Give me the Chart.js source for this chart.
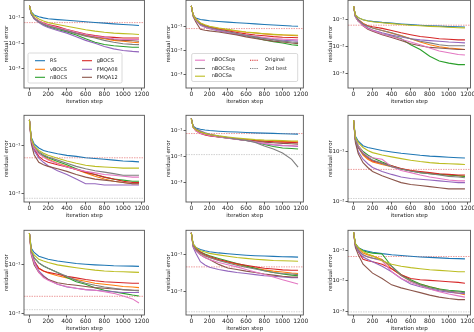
<!DOCTYPE html>
<html><head><meta charset="utf-8">
<script src="https://cdn.jsdelivr.net/npm/chart.js@4/dist/chart.umd.min.js"></script>
<style>
html,body{margin:0;padding:0;background:#fff;overflow:hidden;width:474px;height:332px;}
canvas{position:absolute;}
</style></head><body>
<script>
// ---------- data ----------
const ITER = [0, 20, 50, 100, 150, 200, 300, 400, 500, 600, 700, 800, 900, 1000, 1100, 1170];
const X_TICKS = [0, 200, 400, 600, 800, 1000, 1200];
const METHODS = ['RS','vBOCS','nBOCS','gBOCS','FMQA08','FMQA12','nBOCSqa','nBOCSsq','nBOCSa'];

// each method: 9 panels (row-major), values at ITER
const RS = [
 [0.30,0.17,0.13,0.11,0.10,0.092,0.085,0.08,0.075,0.07,0.066,0.062,0.058,0.055,0.052,0.05],
 [0.7,0.3,0.22,0.19,0.18,0.17,0.158,0.148,0.14,0.133,0.125,0.118,0.112,0.107,0.102,0.1],
 [0.32,0.15,0.12,0.1,0.092,0.087,0.08,0.075,0.07,0.066,0.063,0.06,0.058,0.056,0.055,0.054],
 [0.35,0.15,0.11,0.09,0.08,0.075,0.068,0.063,0.06,0.056,0.054,0.052,0.05,0.048,0.047,0.046],
 [0.3,0.15,0.13,0.115,0.108,0.103,0.097,0.093,0.09,0.087,0.084,0.082,0.08,0.078,0.076,0.075],
 [0.42,0.2,0.16,0.13,0.12,0.115,0.105,0.098,0.092,0.088,0.084,0.081,0.079,0.077,0.075,0.074],
 [0.45,0.22,0.18,0.15,0.14,0.13,0.12,0.113,0.107,0.103,0.1,0.098,0.096,0.095,0.094,0.093],
 [0.4,0.2,0.16,0.14,0.13,0.122,0.113,0.107,0.102,0.098,0.095,0.093,0.091,0.089,0.088,0.087],
 [0.38,0.16,0.12,0.1,0.092,0.085,0.077,0.071,0.067,0.063,0.06,0.058,0.056,0.054,0.053,0.052]
];
const vBOCS = [
 [0.30,0.15,0.10,0.075,0.06,0.05,0.04,0.032,0.025,0.02,0.017,0.015,0.013,0.012,0.011,0.0105],
 [0.7,0.3,0.2,0.13,0.11,0.095,0.08,0.07,0.062,0.056,0.052,0.048,0.045,0.043,0.041,0.04],
 [0.32,0.14,0.1,0.075,0.06,0.05,0.04,0.032,0.026,0.02,0.015,0.012,0.01,0.009,0.0085,0.008],
 [0.35,0.13,0.09,0.07,0.06,0.052,0.043,0.037,0.032,0.027,0.023,0.02,0.018,0.017,0.016,0.016],
 [0.3,0.14,0.11,0.085,0.075,0.068,0.06,0.054,0.05,0.046,0.043,0.041,0.04,0.039,0.038,0.038],
 [0.42,0.17,0.12,0.085,0.07,0.062,0.055,0.05,0.045,0.042,0.039,0.037,0.035,0.034,0.033,0.032],
 [0.45,0.17,0.12,0.085,0.075,0.068,0.06,0.054,0.05,0.046,0.042,0.04,0.038,0.036,0.035,0.034],
 [0.4,0.18,0.14,0.11,0.095,0.085,0.072,0.063,0.055,0.048,0.043,0.039,0.036,0.034,0.032,0.031],
 [0.38,0.15,0.11,0.08,0.07,0.065,0.05,0.025,0.015,0.01,0.008,0.0065,0.0055,0.0045,0.004,0.0036]
];
const nBOCS = [
 [0.30,0.14,0.095,0.07,0.055,0.045,0.035,0.028,0.021,0.015,0.011,0.009,0.008,0.0075,0.007,0.007],
 [0.7,0.28,0.19,0.12,0.1,0.085,0.068,0.058,0.048,0.04,0.033,0.027,0.023,0.02,0.017,0.016],
 [0.32,0.13,0.09,0.065,0.05,0.04,0.03,0.025,0.02,0.012,0.008,0.0045,0.003,0.0025,0.0022,0.0022],
 [0.35,0.13,0.09,0.07,0.062,0.056,0.047,0.04,0.033,0.028,0.025,0.022,0.02,0.019,0.018,0.018],
 [0.3,0.14,0.11,0.085,0.073,0.066,0.058,0.052,0.048,0.044,0.038,0.03,0.025,0.022,0.021,0.02],
 [0.42,0.18,0.13,0.1,0.085,0.075,0.062,0.052,0.045,0.041,0.038,0.036,0.035,0.034,0.033,0.032],
 [0.45,0.19,0.14,0.11,0.095,0.085,0.07,0.055,0.045,0.04,0.034,0.03,0.028,0.026,0.024,0.023],
 [0.4,0.19,0.15,0.12,0.105,0.095,0.08,0.068,0.058,0.05,0.043,0.037,0.033,0.03,0.028,0.027],
 [0.38,0.16,0.12,0.095,0.085,0.08,0.075,0.03,0.016,0.011,0.008,0.0065,0.0055,0.005,0.0047,0.0045]
];
const gBOCS = [
 [0.30,0.15,0.10,0.075,0.062,0.055,0.045,0.035,0.028,0.023,0.02,0.018,0.017,0.016,0.016,0.016],
 [0.7,0.3,0.2,0.13,0.105,0.09,0.075,0.064,0.055,0.048,0.043,0.04,0.037,0.035,0.034,0.033],
 [0.32,0.14,0.1,0.07,0.06,0.055,0.048,0.04,0.033,0.028,0.024,0.022,0.02,0.019,0.018,0.018],
 [0.35,0.13,0.085,0.06,0.05,0.045,0.04,0.036,0.032,0.028,0.025,0.022,0.02,0.018,0.017,0.017],
 [0.3,0.14,0.1,0.08,0.07,0.064,0.058,0.053,0.049,0.045,0.042,0.04,0.038,0.037,0.036,0.035],
 [0.42,0.17,0.12,0.09,0.075,0.065,0.058,0.052,0.046,0.042,0.04,0.038,0.036,0.035,0.034,0.034],
 [0.45,0.18,0.12,0.085,0.075,0.07,0.064,0.058,0.054,0.05,0.047,0.045,0.044,0.043,0.042,0.042],
 [0.4,0.19,0.15,0.12,0.1,0.09,0.075,0.065,0.057,0.052,0.047,0.043,0.041,0.039,0.038,0.038],
 [0.38,0.14,0.09,0.05,0.045,0.042,0.035,0.025,0.016,0.012,0.011,0.0105,0.01,0.0095,0.009,0.0085]
];
const FMQA08 = [
 [0.30,0.14,0.09,0.065,0.05,0.042,0.032,0.025,0.018,0.013,0.01,0.0075,0.006,0.0052,0.0048,0.0046],
 [0.7,0.28,0.18,0.11,0.09,0.078,0.064,0.054,0.046,0.04,0.035,0.031,0.028,0.026,0.025,0.024],
 [0.32,0.13,0.09,0.065,0.05,0.042,0.033,0.027,0.023,0.02,0.018,0.017,0.016,0.015,0.0145,0.014],
 [0.35,0.12,0.08,0.055,0.045,0.038,0.03,0.025,0.02,0.016,0.016,0.015,0.015,0.015,0.015,0.015],
 [0.3,0.15,0.12,0.1,0.085,0.075,0.063,0.055,0.048,0.043,0.037,0.032,0.029,0.027,0.026,0.025],
 [0.42,0.16,0.1,0.07,0.057,0.048,0.04,0.035,0.031,0.029,0.028,0.027,0.026,0.025,0.024,0.024],
 [0.45,0.18,0.12,0.075,0.06,0.05,0.04,0.035,0.033,0.031,0.03,0.029,0.028,0.027,0.027,0.027],
 [0.4,0.16,0.11,0.065,0.053,0.046,0.04,0.036,0.033,0.031,0.029,0.027,0.026,0.025,0.024,0.024],
 [0.38,0.13,0.09,0.06,0.05,0.042,0.03,0.02,0.012,0.008,0.0065,0.0055,0.0048,0.0043,0.004,0.0039]
];
const FMQA12 = [
 [0.30,0.15,0.10,0.072,0.058,0.05,0.04,0.032,0.026,0.021,0.018,0.016,0.014,0.013,0.0125,0.012],
 [0.7,0.25,0.15,0.075,0.068,0.064,0.058,0.05,0.043,0.036,0.031,0.027,0.024,0.022,0.02,0.019],
 [0.32,0.13,0.09,0.06,0.045,0.038,0.028,0.022,0.017,0.013,0.011,0.0095,0.009,0.0085,0.008,0.008],
 [0.35,0.11,0.065,0.045,0.04,0.037,0.033,0.029,0.025,0.022,0.02,0.019,0.018,0.017,0.016,0.016],
 [0.3,0.14,0.11,0.09,0.078,0.07,0.06,0.053,0.048,0.043,0.04,0.037,0.035,0.033,0.032,0.031],
 [0.42,0.15,0.09,0.06,0.048,0.04,0.033,0.028,0.024,0.022,0.021,0.02,0.019,0.018,0.018,0.018],
 [0.45,0.16,0.1,0.07,0.058,0.05,0.043,0.04,0.038,0.036,0.034,0.033,0.032,0.031,0.03,0.03],
 [0.4,0.17,0.13,0.1,0.085,0.075,0.055,0.044,0.04,0.036,0.033,0.03,0.028,0.026,0.025,0.025],
 [0.38,0.12,0.07,0.035,0.025,0.018,0.012,0.0075,0.006,0.005,0.0042,0.0035,0.003,0.0027,0.0025,0.0025]
];
const nBOCSqa = [
 [0.30,0.15,0.10,0.075,0.06,0.052,0.042,0.034,0.027,0.022,0.019,0.017,0.015,0.014,0.014,0.014],
 [0.7,0.28,0.18,0.115,0.095,0.082,0.068,0.058,0.05,0.043,0.038,0.034,0.031,0.029,0.028,0.027],
 [0.32,0.13,0.09,0.06,0.048,0.04,0.03,0.024,0.019,0.015,0.012,0.009,0.007,0.006,0.0052,0.005],
 [0.35,0.13,0.09,0.068,0.058,0.05,0.042,0.036,0.032,0.029,0.027,0.025,0.024,0.023,0.022,0.022],
 [0.3,0.14,0.1,0.08,0.072,0.066,0.058,0.052,0.047,0.043,0.038,0.033,0.03,0.028,0.027,0.026],
 [0.42,0.18,0.13,0.095,0.08,0.075,0.07,0.05,0.042,0.038,0.034,0.031,0.029,0.027,0.026,0.026],
 [0.45,0.17,0.11,0.07,0.055,0.048,0.04,0.036,0.033,0.031,0.03,0.028,0.026,0.023,0.02,0.0165],
 [0.4,0.17,0.13,0.1,0.085,0.075,0.062,0.054,0.047,0.04,0.034,0.029,0.025,0.021,0.018,0.016],
 [0.38,0.15,0.1,0.07,0.06,0.055,0.045,0.02,0.012,0.009,0.007,0.0055,0.0045,0.0038,0.0033,0.003]
];
const nBOCSsq = [
 [0.30,0.14,0.095,0.07,0.056,0.048,0.038,0.03,0.024,0.019,0.016,0.013,0.011,0.0095,0.009,0.0088],
 [0.7,0.28,0.19,0.12,0.1,0.088,0.072,0.06,0.05,0.042,0.036,0.031,0.027,0.024,0.022,0.021],
 [0.32,0.14,0.1,0.07,0.058,0.05,0.04,0.033,0.025,0.02,0.016,0.014,0.012,0.011,0.011,0.011],
 [0.35,0.14,0.1,0.075,0.065,0.058,0.05,0.043,0.037,0.033,0.03,0.028,0.026,0.024,0.024,0.024],
 [0.3,0.15,0.12,0.095,0.082,0.073,0.062,0.054,0.048,0.043,0.036,0.026,0.02,0.014,0.008,0.004],
 [0.42,0.17,0.12,0.09,0.077,0.068,0.058,0.05,0.045,0.041,0.038,0.036,0.034,0.032,0.031,0.03],
 [0.45,0.19,0.14,0.11,0.095,0.085,0.07,0.058,0.048,0.042,0.038,0.035,0.033,0.031,0.03,0.029],
 [0.4,0.18,0.14,0.11,0.095,0.085,0.07,0.06,0.052,0.046,0.041,0.037,0.033,0.031,0.03,0.029],
 [0.38,0.15,0.1,0.07,0.06,0.055,0.048,0.03,0.015,0.01,0.0075,0.006,0.0052,0.0047,0.0044,0.0042]
];
const nBOCSa = [
 [0.30,0.16,0.12,0.09,0.075,0.065,0.055,0.047,0.04,0.034,0.03,0.027,0.025,0.024,0.023,0.022],
 [0.7,0.3,0.2,0.135,0.115,0.1,0.085,0.074,0.065,0.058,0.053,0.049,0.046,0.044,0.043,0.042],
 [0.32,0.15,0.12,0.1,0.09,0.085,0.078,0.072,0.067,0.063,0.06,0.057,0.055,0.053,0.051,0.05],
 [0.35,0.14,0.1,0.08,0.07,0.063,0.055,0.048,0.043,0.039,0.037,0.036,0.035,0.034,0.034,0.034],
 [0.3,0.14,0.11,0.09,0.08,0.073,0.064,0.058,0.053,0.049,0.046,0.044,0.043,0.042,0.041,0.041],
 [0.42,0.19,0.15,0.12,0.105,0.095,0.085,0.078,0.072,0.067,0.063,0.06,0.058,0.057,0.056,0.055],
 [0.45,0.2,0.16,0.13,0.12,0.112,0.1,0.093,0.087,0.082,0.078,0.075,0.073,0.072,0.071,0.07],
 [0.4,0.2,0.16,0.13,0.12,0.11,0.1,0.092,0.085,0.08,0.076,0.073,0.07,0.069,0.068,0.067],
 [0.38,0.16,0.12,0.09,0.075,0.065,0.045,0.035,0.03,0.027,0.025,0.023,0.022,0.021,0.02,0.02]
];
const ORIGINAL   = [0.065, 0.08, 0.063, 0.056, 0.079, 0.044, 0.0226, 0.047, 0.062];
const SECOND_BEST = [null, null, null, 0.0079, 0.0122, 0.0116, 0.012, 0.0028, 0.001];
// log10 axis limits per panel
const Y_LOG_MIN = [-3.76, -3.57, -3.47, -2.18, -3.74, -2.005, -2.03, -2.64, -3.10];
const Y_LOG_MAX = [-0.31, 0.08, -0.28, -0.36, -0.40, -0.28, -0.29, -0.33, -0.36];
const Y_TICKS = [1e-3, 1e-2, 1e-1];

// ---------- style / layout ----------
const SERIES = [RS, vBOCS, nBOCS, gBOCS, FMQA08, FMQA12, nBOCSqa, nBOCSsq, nBOCSa];
const COLORS = ['#1f77b4','#ff7f0e','#2ca02c','#d62728','#9467bd','#8c564b','#e377c2','#7f7f7f','#bcbd22'];
const X_MIN = -58, X_MAX = 1228;
const COLS = [[24,147],[186,306],[348,473]];
const ROWS = [[-2,88],[113,202],[228,315]];
const YW = 22, XH = 17, PT = 2, PR = 3;
const FONT = 'DejaVu Sans';

const SUP = {'-':'\u207B','0':'\u2070','1':'\u00B9','2':'\u00B2','3':'\u00B3','4':'\u2074','5':'\u2075'};
function fmtLog(v){
  const e = Math.round(Math.log10(v));
  return '10' + String(e).split('').map(c=>SUP[c]).join('');
}

function drawLegend(ctx, x, y, w, h, items, rows, colOff){
  ctx.save();
  ctx.fillStyle = 'rgba(255,255,255,0.85)';
  ctx.strokeStyle = '#d0d0d0';
  ctx.lineWidth = 0.8;
  const r = 1.5;
  ctx.beginPath();
  ctx.moveTo(x+r,y); ctx.lineTo(x+w-r,y); ctx.quadraticCurveTo(x+w,y,x+w,y+r);
  ctx.lineTo(x+w,y+h-r); ctx.quadraticCurveTo(x+w,y+h,x+w-r,y+h);
  ctx.lineTo(x+r,y+h); ctx.quadraticCurveTo(x,y+h,x,y+h-r);
  ctx.lineTo(x,y+r); ctx.quadraticCurveTo(x,y,x+r,y);
  ctx.closePath(); ctx.fill(); ctx.stroke();
  ctx.font = '5px "' + FONT + '"';
  ctx.textBaseline = 'middle';
  ctx.textAlign = 'left';
  items.forEach((it, i) => {
    const col = Math.floor(i / rows.length), row = i % rows.length;
    const cy = y + rows[row];
    const [s0, s1, tx] = colOff[col];
    ctx.beginPath();
    ctx.strokeStyle = it.color;
    ctx.lineWidth = 1.1;
    ctx.setLineDash(it.dash || []);
    ctx.moveTo(x+s0, cy); ctx.lineTo(x+s1, cy); ctx.stroke();
    ctx.setLineDash([]);
    ctx.fillStyle = '#222';
    ctx.fillText(it.label, x+tx, cy);
  });
  ctx.restore();
}

for (let p = 0; p < 9; p++) {
  const row = Math.floor(p/3), col = p % 3;
  const [c0, c1] = COLS[col], [r0, r1] = ROWS[row];
  const cv = document.createElement('canvas');
  const W = YW + (c1 - c0) + PR, H = PT + (r1 - r0) + XH;
  cv.width = W; cv.height = H;
  cv.style.left = (c0 - YW) + 'px';
  cv.style.top = (r0 - PT) + 'px';
  cv.style.width = W + 'px'; cv.style.height = H + 'px';
  document.body.appendChild(cv);

  const datasets = [];
  SERIES.forEach((S, m) => {
    datasets.push({
      label: METHODS[m],
      data: ITER.map((x, i) => ({x, y: S[p][i]})),
      borderColor: COLORS[m], borderWidth: 1.1,
      order: 20 - m, pointRadius: 0, tension: 0, fill: false
    });
  });
  datasets.push({
    label: 'Original',
    data: [{x: X_MIN, y: ORIGINAL[p]}, {x: X_MAX, y: ORIGINAL[p]}],
    borderColor: 'rgba(214,39,40,0.45)', borderWidth: 1, borderDash: [1.5, 1],
    order: 30, pointRadius: 0
  });
  if (SECOND_BEST[p] !== null) {
    datasets.push({
      label: '2nd best',
      data: [{x: X_MIN, y: SECOND_BEST[p]}, {x: X_MAX, y: SECOND_BEST[p]}],
      borderColor: 'rgba(127,127,127,0.35)', borderWidth: 1, borderDash: [1.5, 1],
      order: 31, pointRadius: 0
    });
  }

  const ymin = Math.pow(10, Y_LOG_MIN[p]), ymax = Math.pow(10, Y_LOG_MAX[p]);
  const framePlugin = {
    id: 'frame' + p,
    afterDatasetsDraw(chart) {
      const {ctx, chartArea: a} = chart;
      ctx.save();
      ctx.strokeStyle = '#555';
      ctx.lineWidth = 0.9;
      ctx.strokeRect(a.left, a.top, a.right - a.left, a.bottom - a.top);
      ctx.restore();
      if (p === 0) {
        drawLegend(ctx, a.left + 4, a.bottom - 35, 94, 30,
          [0,1,2,3,4,5].map(i => ({label: METHODS[i], color: COLORS[i]})),
          [7.7, 16.3, 24.3], [[7, 17, 22], [54, 64, 68.7]]);
      }
      if (p === 1) {
        drawLegend(ctx, a.left + 5.7, a.bottom - 34.5, 106, 28,
          [{label: METHODS[6], color: COLORS[6]}, {label: METHODS[7], color: COLORS[7]},
           {label: METHODS[8], color: COLORS[8]},
           {label: 'Original', color: '#d62728', dash: [1.2, 1]},
           {label: '2nd best', color: '#7f7f7f', dash: [1.2, 1]}],
          [6.7, 15, 22.7], [[3.3, 13.3, 20], [58.3, 67, 73.3]]);
      }
    }
  };

  new Chart(cv, {
    type: 'line',
    data: {datasets},
    plugins: [framePlugin],
    options: {
      responsive: false, animation: false, devicePixelRatio: 1,
      layout: {padding: {top: PT, right: PR, left: 0, bottom: 0}},
      plugins: {legend: {display: false}, tooltip: {enabled: false}},
      scales: {
        x: {
          type: 'linear', min: X_MIN, max: X_MAX,
          afterBuildTicks: s => { s.ticks = X_TICKS.map(v => ({value: v})); },
          afterFit: s => { s.height = XH; },
          ticks: {font: {size: 6, family: FONT}, color: '#222', padding: 0.5, maxRotation: 0, autoSkip: false, callback: v => String(v)},
          grid: {display: true, drawOnChartArea: false, tickLength: 2.5, tickColor: '#333', tickWidth: 0.8},
          border: {display: false},
          title: {display: true, text: 'iteration step', font: {size: 5.5, family: FONT}, color: '#222', padding: {top: 0, bottom: 0.5}}
        },
        y: {
          type: 'logarithmic', min: ymin, max: ymax,
          afterBuildTicks: s => { s.ticks = Y_TICKS.filter(v => v >= ymin*0.999 && v <= ymax*1.001).map(v => ({value: v})); },
          afterFit: s => { s.width = YW; },
          ticks: {font: {size: 5.5, family: FONT}, color: '#222', padding: 1, autoSkip: false, callback: v => fmtLog(v)},
          grid: {display: true, drawOnChartArea: false, tickLength: 2.5, tickColor: '#333', tickWidth: 0.8},
          border: {display: false},
          title: {display: true, text: 'residual error', font: {size: 5.5, family: FONT}, color: '#222', padding: {top: 1, bottom: 0}}
        }
      }
    }
  });
}
</script>
</body></html>
